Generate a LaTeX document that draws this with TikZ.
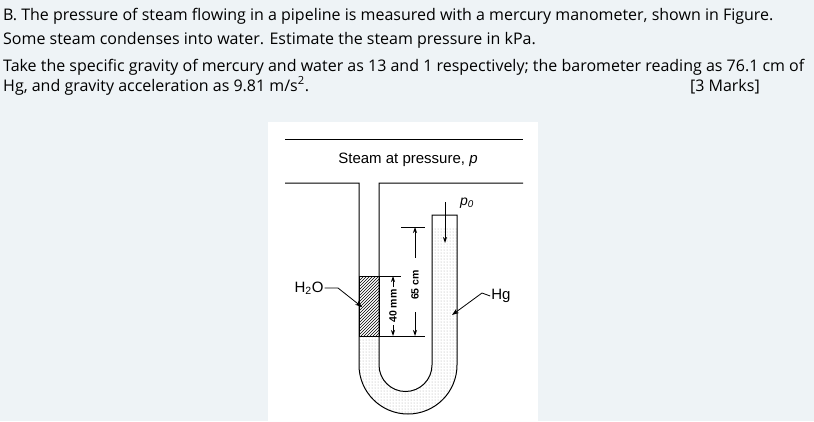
\documentclass[tikz,border=0pt]{standalone}
\usepackage{fontspec}
\setmainfont{Open Sans}
\newfontfamily\figfont{Liberation Sans}
\usetikzlibrary{patterns,arrows.meta}
\definecolor{bgc}{HTML}{EEF3F6}
\begin{document}
\begin{tikzpicture}[x=1pt,y=-1pt,
  qtext/.style={anchor=base west,inner sep=0pt,font=\fontsize{16}{18}\selectfont},
  flab/.style={inner sep=1pt,font=\figfont\fontsize{15}{17}\selectfont},
  dim/.style={-{Stealth[length=6pt,width=4pt]},line width=0.8pt},
  lead/.style={line width=0.8pt,-{Stealth[length=7pt,width=5pt]}},
  wall/.style={line width=1pt}]
\fill[bgc] (0,0) rectangle (814,421);
\useasboundingbox (0,0) rectangle (814,421);
\fill[white] (268,122) rectangle (538,421);
\node[qtext] (l1) at (3,20) {B. The pressure of steam flowing in a pipeline is measured with a mercury manometer, shown in Figure.};
\node[qtext] (l2) at (3,44) {Some steam condenses into water. Estimate the steam pressure in kPa.};
\node[qtext] (l3) at (3,71) {Take the specific gravity of mercury and water as 13 and 1 respectively; the barometer reading as 76.1 cm of};
\node[qtext] (l4) at (3,91) {Hg, and gravity acceleration as 9.81 m/s\textsuperscript{2}.};
\node[qtext,anchor=base east] (mk) at (760,91) {[3 Marks]};
% fluids
\fill[pattern=dots,pattern color=gray!70] (359,336) -- (359,365) arc(180:0:49) -- (457,227) -- (432,227) -- (432,365) arc(0:180:26.5) -- (379,336) -- cycle;
\fill[pattern=north east lines] (359,276) rectangle (379,336);
\draw[line width=0.7pt] (359,276) rectangle (379,336);
% pipe and tube
\draw[wall] (285,139) -- (523,139);
\draw[wall] (285,183) -- (359,183) -- (359,365) arc(180:0:49) -- (457,215) -- (432,215) -- (432,365) arc(0:180:26.5) -- (379,183) -- (523,183);
\node[flab] (st) at (408,160) {Steam at pressure, \textit{p}};
% dimensions
\draw[line width=0.7pt] (379,276) -- (401,276);
\draw[line width=0.7pt] (379,336) -- (425,336);
\draw[line width=0.7pt] (401,227) -- (425,227);
\node[flab,rotate=90,inner sep=2pt,font=\figfont\fontsize{10.5}{12}\selectfont\bfseries] (d40) at (393,306) {40 mm};
\draw[dim] (d40.east) -- (393,276);
\draw[dim] (d40.west) -- (393,336);
\node[flab,rotate=90,inner sep=12pt,font=\figfont\fontsize{10.5}{12}\selectfont\bfseries] (d65) at (415,285) {65 cm};
\draw[dim] (d65.east) -- (415,227);
\draw[dim] (d65.west) -- (415,336);
\coordinate (pa) at (445,202);
\coordinate (pb) at (445,243);
\draw[dim] (pa) -- (pb);
\node[flab,font=\figfont\fontsize{14}{16}\selectfont\itshape] (p0) at (467,203) {p\textsubscript{0}};
\node[flab] (h2o) at (309,288) {H\textsubscript{2}O};
\coordinate (hw) at (362,307);
\draw[lead] (h2o.east) -- (338,288) -- (hw);
\node[flab] (hg) at (501,296) {Hg};
\coordinate (hgt) at (452,315);
\draw[lead] (hg.west) -- (482,293) -- (hgt);
\end{tikzpicture}
\end{document}
